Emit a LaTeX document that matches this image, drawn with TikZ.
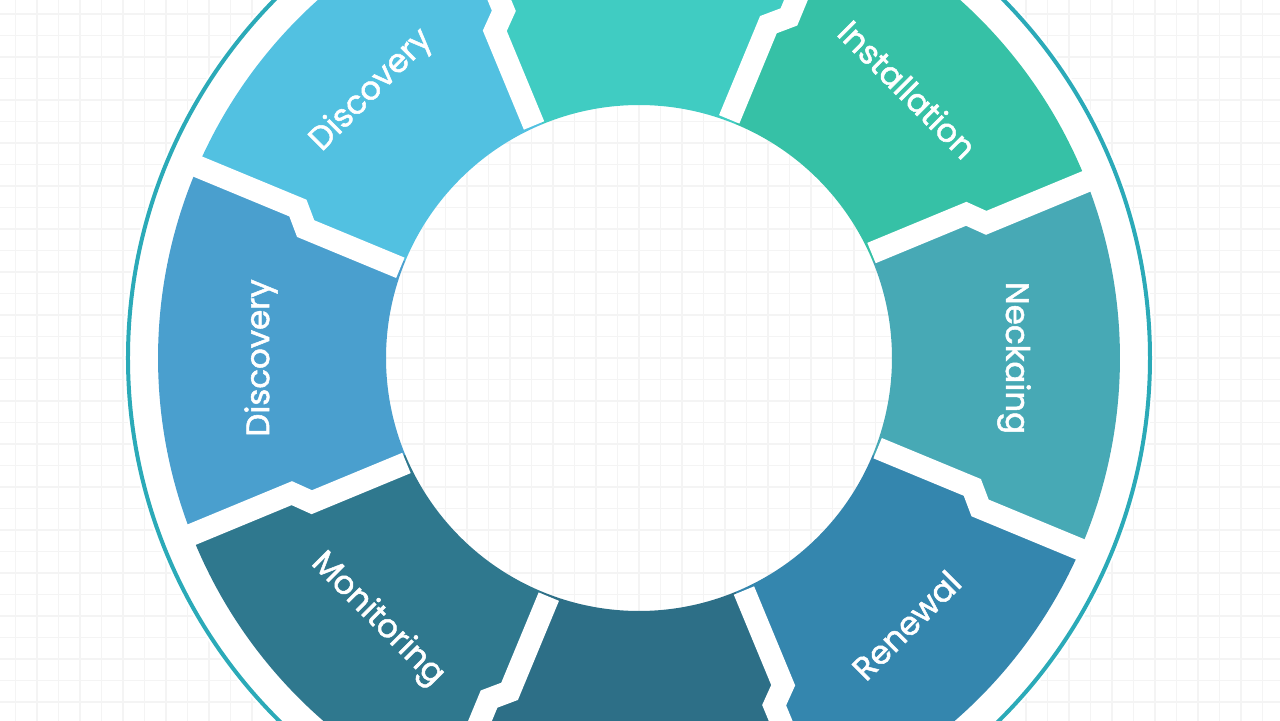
\documentclass[tikz,border=0pt]{standalone}
\usepackage{fontspec}
\setmainfont{Poppins}
\newfontfamily\lblfont[FakeBold=1.6]{Poppins}
\usetikzlibrary{calc}

\definecolor{ringteal}{HTML}{2BAAB8}
\definecolor{segtop}{HTML}{40CCC2}
\definecolor{segtopright}{HTML}{36C1A6}
\definecolor{segright}{HTML}{47A9B5}
\definecolor{segbotright}{HTML}{3486AE}
\definecolor{segbot}{HTML}{2D6F87}
\definecolor{segbotleft}{HTML}{2F788E}
\definecolor{segleft}{HTML}{4A9FCE}
\definecolor{segtopleft}{HTML}{52C1E1}

\tikzset{
  gap/.style={white, line width=0.44cm},
  lbl/.style={text=white, font=\lblfont\fontsize{18.5}{22}\selectfont},
}

\begin{document}
\begin{tikzpicture}
  \useasboundingbox (-12.78,-7.24) rectangle (12.82,7.16);
  \clip (-12.78,-7.24) rectangle (12.82,7.16);
  \fill[white] (-12.78,-7.24) rectangle (12.82,7.16);
  \draw [step=0.43] [gray!9, line width=0.6pt] (-12.9,-7.3) grid (12.9,7.3);

  % white band round the ring
  \fill [white] [even odd rule] (0,0) circle [radius = 10.3] (0,0) circle [radius = 5.06];
  \draw [ringteal] [line width=0.08cm] (0,0) circle [radius = 10.22];

  % the eight segments
  \fill [segtop] (67.5:5.06) arc [start angle=67.5, end angle=112.5, radius=5.06] -- (112.5:9.62) arc [start angle=112.5, end angle=67.5, radius=9.62] -- cycle;
  \fill [segtopleft] (112.5:5.06) arc [start angle=112.5, end angle=157.5, radius=5.06] -- (157.5:9.62) arc [start angle=157.5, end angle=112.5, radius=9.62] -- cycle;
  \fill [segleft] (157.5:5.06) arc [start angle=157.5, end angle=202.5, radius=5.06] -- (202.5:9.62) arc [start angle=202.5, end angle=157.5, radius=9.62] -- cycle;
  \fill [segbotleft] (202.5:5.06) arc [start angle=202.5, end angle=247.5, radius=5.06] -- (247.5:9.62) arc [start angle=247.5, end angle=202.5, radius=9.62] -- cycle;
  \fill [segbot] (247.5:5.06) arc [start angle=247.5, end angle=292.5, radius=5.06] -- (292.5:9.62) arc [start angle=292.5, end angle=247.5, radius=9.62] -- cycle;
  \fill [segbotright] (292.5:5.06) arc [start angle=292.5, end angle=337.5, radius=5.06] -- (337.5:9.62) arc [start angle=337.5, end angle=292.5, radius=9.62] -- cycle;
  \fill [segright] (-22.5:5.06) arc [start angle=-22.5, end angle=22.5, radius=5.06] -- (22.5:9.62) arc [start angle=22.5, end angle=-22.5, radius=9.62] -- cycle;
  \fill [segtopright] (22.5:5.06) arc [start angle=22.5, end angle=67.5, radius=5.06] -- (67.5:9.62) arc [start angle=67.5, end angle=22.5, radius=9.62] -- cycle;

  % gaps with a small step half way
  \foreach \b in {22.5,67.5,...,337.5}
    \draw [gap] ($(\b:5.1)+(\b+90:0.16)$) -- ($(\b:7.15)+(\b+90:0.16)$) -- ($(\b:7.45)+(\b-90:0.16)$) -- ($(\b:9.8)+(\b-90:0.16)$);

  \node [lbl] (discoveryA) at (135:7.56) [rotate=45] {Discovery};
  \node [lbl] (discoveryB) at (180:7.56) [rotate=90] {Discovery};
  \node [lbl] (installation) at (45:7.6) [rotate=-45] {Installation};
  \node [lbl] (neckaing) at (0:7.5) [rotate=-90] {Neckaing};
  \node [lbl] (renewal) at (-45:7.56) [rotate=45] {Renewal};
  \node [lbl] (monitoring) at (-135:7.4) [rotate=-45] {Monitoring};

\end{tikzpicture}
\end{document}
